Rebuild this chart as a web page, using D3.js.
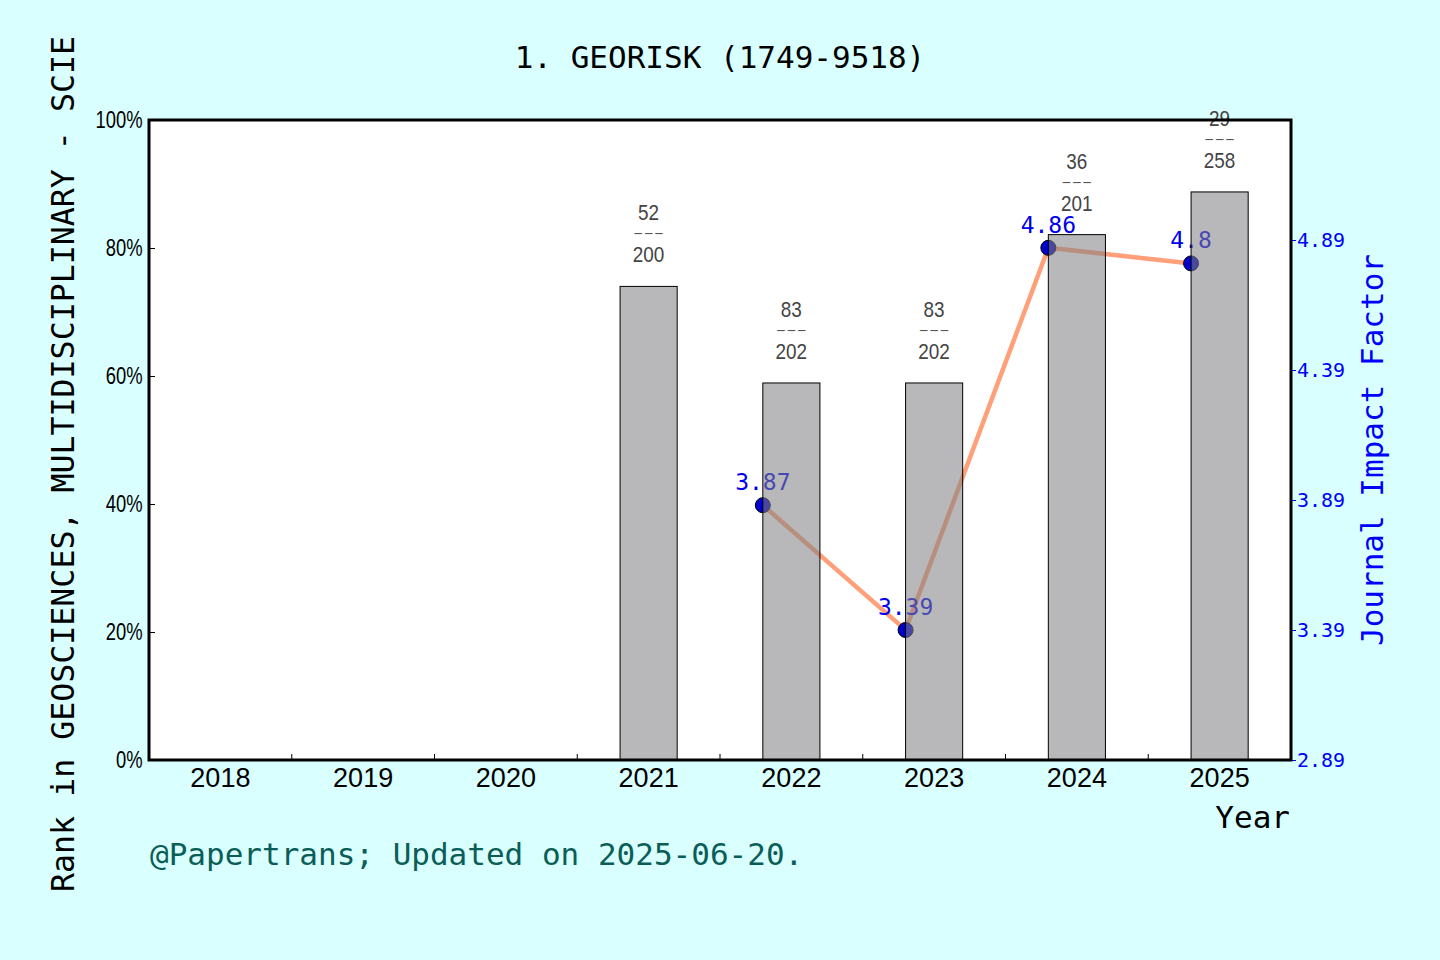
<!DOCTYPE html>
<html>
<head>
<meta charset="utf-8">
<script src="https://cdn.jsdelivr.net/npm/d3@7"></script>
<style>
  body { margin: 0; background: #d9ffff; }
  svg { display: block; }
</style>
</head>
<body>
<div id="vis"></div>
<script>
// data
const years = [2018, 2019, 2020, 2021, 2022, 2023, 2024, 2025]
const rankYears = [2021, 2022, 2023, 2024, 2025]
const ranks = [52, 83, 83, 36, 29]
const totals = [200, 202, 202, 201, 258]
const ifYears = [2022, 2023, 2024, 2025]
const ifValues = [3.87, 3.39, 4.86, 4.8]
const ifTicks = [2.89, 3.39, 3.89, 4.39, 4.89]
const pctTicks = [0, 0.2, 0.4, 0.6, 0.8, 1]

const W = 1440, H = 960
const plot = { left: 149, right: 1291, top: 120, bottom: 760 }
const mono = "'DejaVu Sans Mono', monospace"
const sans = "'Liberation Sans', Arial, sans-serif"

const svg = d3.select("#vis").append("svg")
    .attr("width", W)
    .attr("height", H)

svg.append("rect")
    .attr("width", W).attr("height", H)
    .attr("fill", "#d9ffff")

svg.append("rect")
    .attr("x", plot.left).attr("y", plot.top)
    .attr("width", plot.right - plot.left)
    .attr("height", plot.bottom - plot.top)
    .attr("fill", "white")

// scales
let x = d3.scaleBand().domain(years).range([plot.left, plot.right])
let yL = d3.scaleLinear().domain([0, 1]).range([plot.bottom, plot.top])
let yR = d3.scaleLinear().domain([2.89, 2.89 + 0.5 * 640 / 130]).range([plot.bottom, plot.top])
const barW = x.bandwidth() * 0.4
const barX = (yr) => x(yr) + x.bandwidth() / 2 - barW / 2

// impact factor line + points (drawn below the bars)
let ifData = ifYears.map((yr, i) => ({ year: yr, v: ifValues[i] }))

svg.append("path")
    .datum(ifData)
    .attr("fill", "none")
    .attr("stroke", "#ffa07a")
    .attr("stroke-width", 4.5)
    .attr("d", d3.line()
        .x(d => barX(d.year))
        .y(d => yR(d.v)))

svg.selectAll(".pt")
    .data(ifData)
    .join("circle")
    .attr("class", "pt")
    .attr("cx", d => barX(d.year))
    .attr("cy", d => yR(d.v))
    .attr("r", 7.5)
    .attr("fill", "#0000cc")
    .attr("stroke", "black")
    .attr("stroke-width", 1)

svg.selectAll(".ifLabel")
    .data(ifData)
    .join("text")
    .attr("class", "ifLabel")
    .attr("x", d => barX(d.year))
    .attr("y", d => yR(d.v) - 15)
    .attr("text-anchor", "middle")
    .style("font-family", mono)
    .style("font-size", "23px")
    .attr("fill", "#0000ee")
    .text(d => String(d.v))

// rank bars (semi transparent, over the line)
let rankData = rankYears.map((yr, i) => ({ year: yr, rank: ranks[i], total: totals[i], pct: 1 - ranks[i] / totals[i] }))

svg.selectAll(".bar")
    .data(rankData)
    .join("rect")
    .attr("class", "bar")
    .attr("x", d => barX(d.year))
    .attr("y", d => yL(d.pct))
    .attr("width", barW)
    .attr("height", d => yL(0) - yL(d.pct))
    .attr("fill", "rgba(128,129,132,0.56)")
    .attr("stroke", "black")
    .attr("stroke-width", 1)

let lbl = svg.selectAll(".rankLabel")
    .data(rankData)
    .join("g")
    .attr("class", "rankLabel")
    .attr("transform", d => `translate(${x(d.year) + x.bandwidth() / 2},${yL(d.pct)})`)
    .style("font-family", sans)
    .attr("fill", "#444")
    .attr("text-anchor", "middle")

lbl.append("text")
    .attr("transform", "translate(0,-66) scale(0.86,1)")
    .style("font-size", "22px")
    .text(d => d.rank)
lbl.append("text")
    .attr("transform", "translate(0,-49) scale(2.4,1)")
    .style("font-size", "13px")
    .attr("fill", "#555")
    .text("---")
lbl.append("text")
    .attr("transform", "translate(0,-24) scale(0.86,1)")
    .style("font-size", "22px")
    .text(d => d.total)

// x axis
let xAxis = svg.append("g")
    .attr("transform", `translate(0,${plot.bottom})`)
    .call(d3.axisBottom(x).tickSize(0).tickPadding(8))
xAxis.select(".domain").remove()
xAxis.selectAll("text")
    .style("font-family", sans)
    .style("font-size", "27px")
    .attr("fill", "black")

svg.selectAll(".xTick")
    .data(years.slice(1))
    .join("line")
    .attr("class", "xTick")
    .attr("x1", d => x(d)).attr("x2", d => x(d))
    .attr("y1", plot.bottom).attr("y2", plot.bottom - 6)
    .attr("stroke", "black")

// left axis
let yAxis = svg.append("g")
    .attr("transform", `translate(${plot.left},0)`)
    .call(d3.axisLeft(yL).tickValues(pctTicks).tickFormat(d3.format(".0%"))
        .tickSizeInner(-6).tickSizeOuter(0).tickPadding(8))
yAxis.select(".domain").remove()
yAxis.selectAll("text")
    .style("font-family", sans)
    .style("font-size", "23px")
    .attr("transform", "scale(0.8,1)")
    .attr("fill", "black")

// right axis
let rAxis = svg.append("g")
    .attr("transform", `translate(${plot.right},0)`)
    .call(d3.axisRight(yR).tickValues(ifTicks).tickFormat(d3.format(".2f"))
        .tickSizeInner(5).tickSizeOuter(0).tickPadding(1))
rAxis.select(".domain").remove()
rAxis.selectAll("line").attr("stroke", "#0000ff")
rAxis.selectAll("text")
    .style("font-family", mono)
    .style("font-size", "20px")
    .attr("fill", "#0000ff")

// frame
svg.append("rect")
    .attr("x", plot.left).attr("y", plot.top)
    .attr("width", plot.right - plot.left)
    .attr("height", plot.bottom - plot.top)
    .attr("fill", "none")
    .attr("stroke", "black")
    .attr("stroke-width", 3)

// titles
svg.append("text")
    .attr("x", 720).attr("y", 68)
    .attr("text-anchor", "middle")
    .style("font-family", mono)
    .style("font-size", "31px")
    .text("1. GEORISK (1749-9518)")

svg.append("text")
    .attr("transform", "translate(74,464) rotate(-90)")
    .attr("text-anchor", "middle")
    .style("font-family", mono)
    .style("font-size", "31.6px")
    .text("Rank in GEOSCIENCES, MULTIDISCIPLINARY - SCIE")

svg.append("text")
    .attr("transform", "translate(1383,450) rotate(-90)")
    .attr("text-anchor", "middle")
    .style("font-family", mono)
    .style("font-size", "31px")
    .attr("fill", "#0000ff")
    .text("Journal Impact Factor")

svg.append("text")
    .attr("x", 1290).attr("y", 828)
    .attr("text-anchor", "end")
    .style("font-family", mono)
    .style("font-size", "31px")
    .text("Year")

svg.append("text")
    .attr("x", 150).attr("y", 865)
    .style("font-family", mono)
    .style("font-size", "31px")
    .attr("fill", "#0b5d57")
    .text("@Papertrans; Updated on 2025-06-20.")
</script>
</body>
</html>
